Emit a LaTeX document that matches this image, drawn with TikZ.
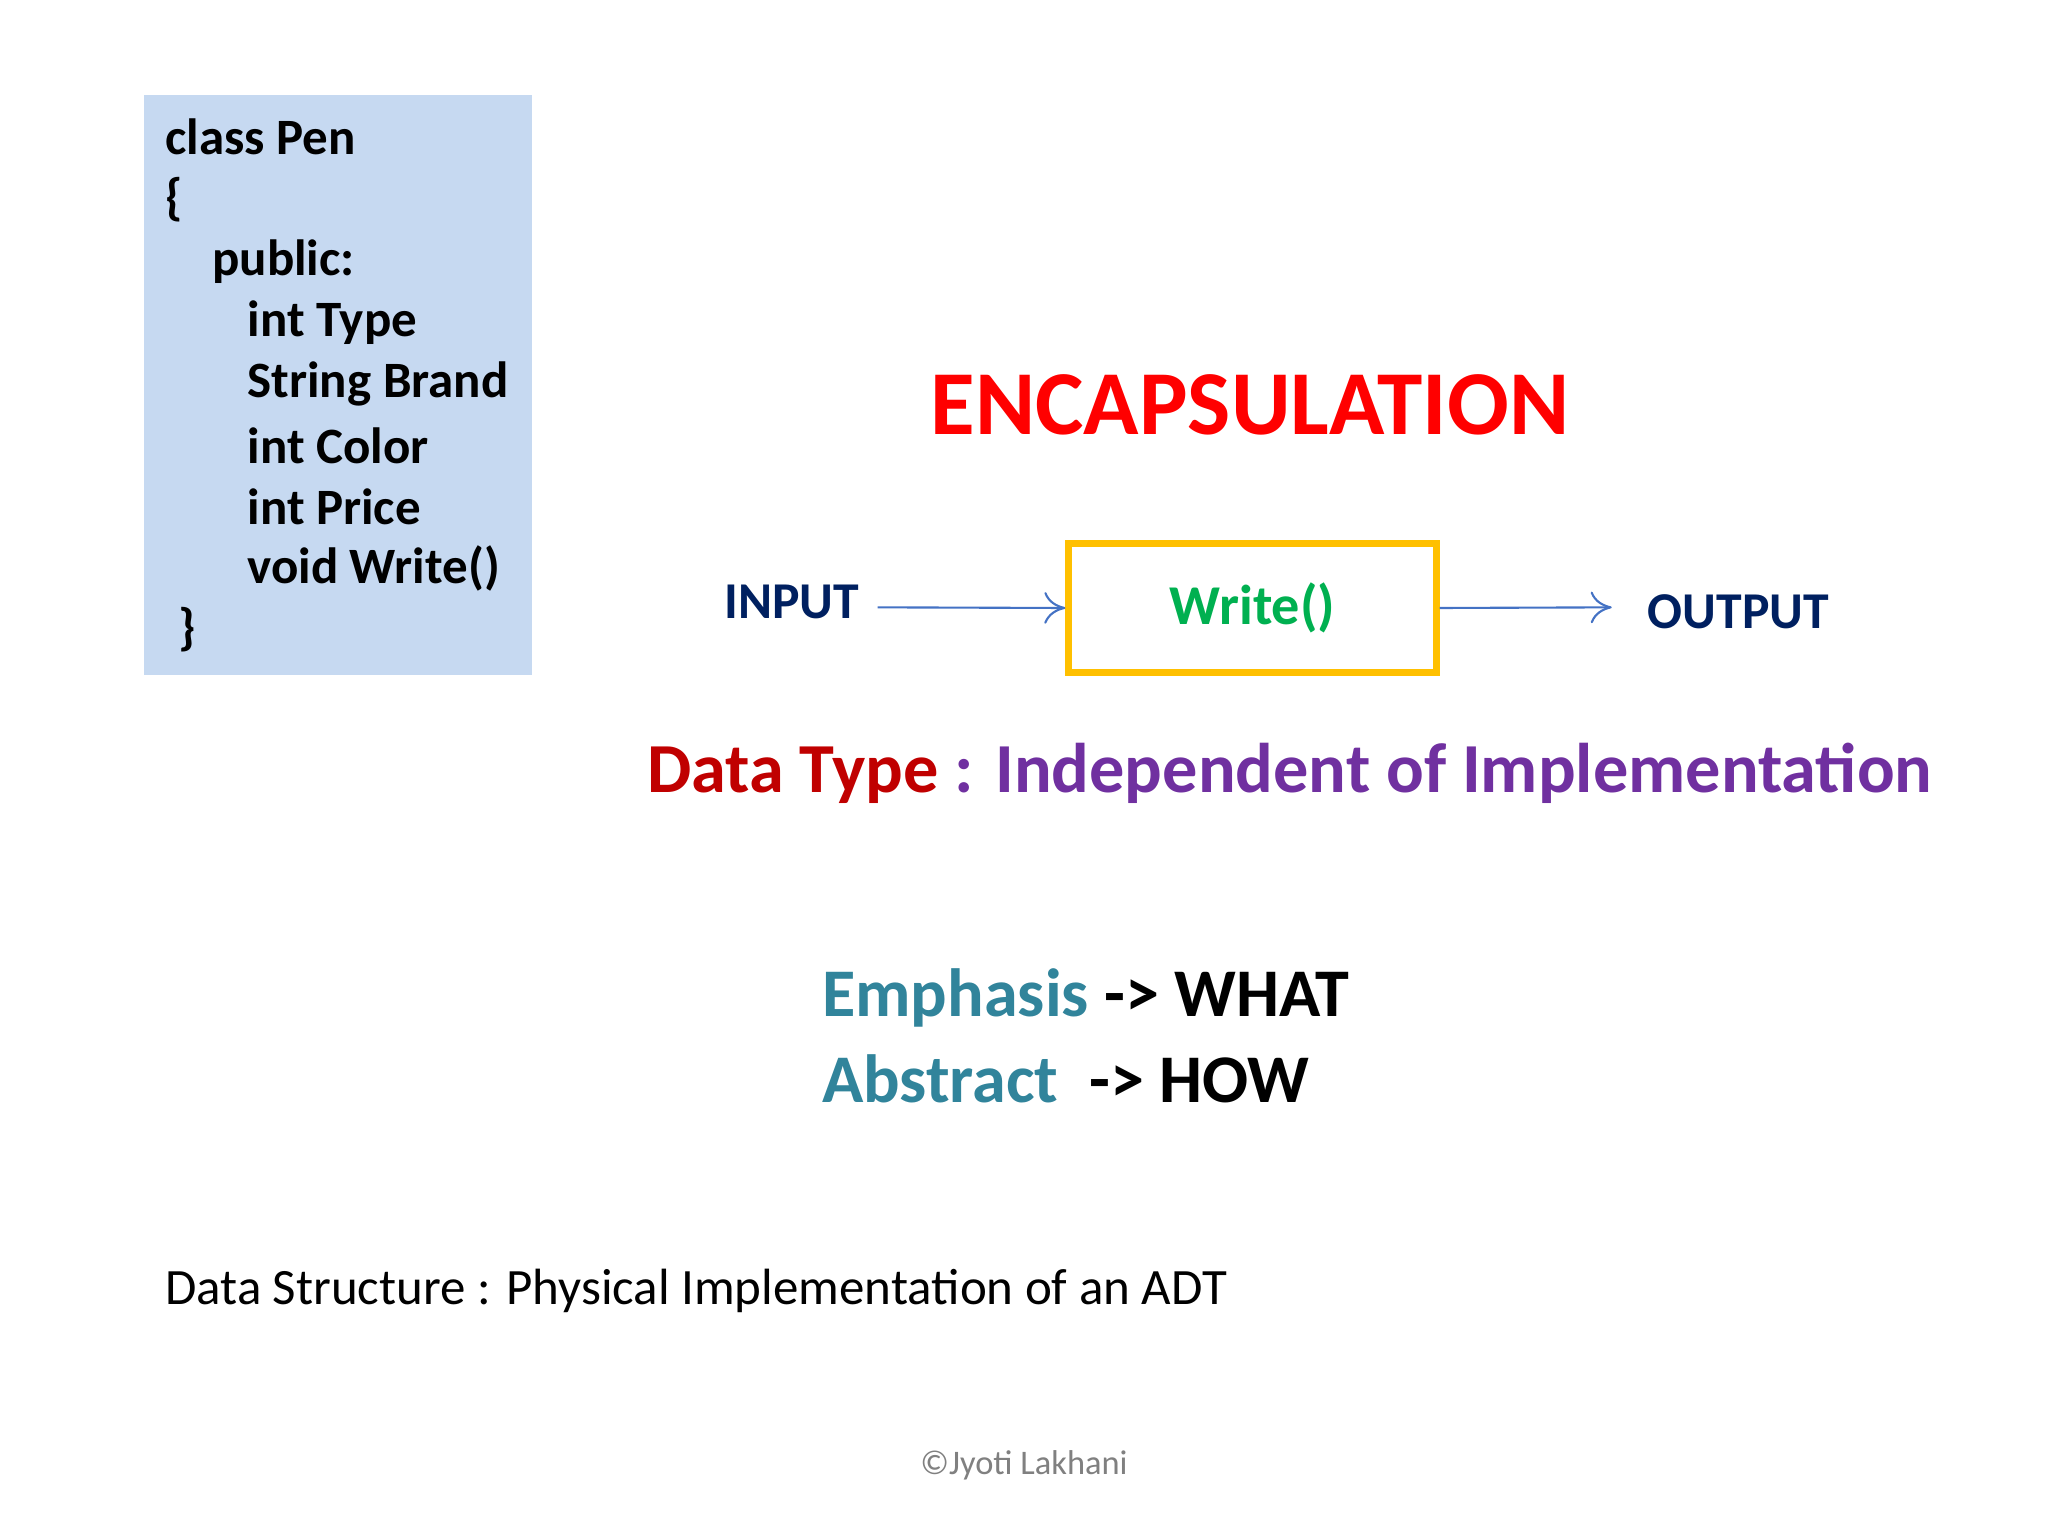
\documentclass[tikz,border=0pt]{standalone}
\usepackage{fontspec}
\setmainfont{Carlito}
\usetikzlibrary{arrows.meta}
\definecolor{codebg}{HTML}{C6D9F1}
\definecolor{ybox}{HTML}{FFC000}
\definecolor{wgreen}{HTML}{00B050}
\definecolor{dred}{HTML}{C00000}
\definecolor{purp}{HTML}{7030A0}
\definecolor{teal2}{HTML}{31849B}
\definecolor{navy}{HTML}{002060}
\definecolor{arr}{HTML}{4472C4}
\tikzset{
 code/.style={anchor=west,inner sep=0,font=\fontsize{14.5}{17}\selectfont\bfseries},
 lbl/.style={inner sep=0,font=\fontsize{14.7}{18}\selectfont\bfseries,text=navy},
 big/.style={anchor=west,inner sep=0,font=\fontsize{19.4}{23}\selectfont\bfseries},
 flow/.style={draw=arr,line width=0.6pt,-{To[length=6pt,width=9pt]}}
}
\begin{document}
\begin{tikzpicture}[x=0.013061cm,y=-0.013061cm]
\useasboundingbox (0,0) rectangle (1568,1176);
\fill[codebg] (110,73) rectangle (407,517);
\node[code] (c1) at (126,105) {class Pen};
\node[code] (c2) at (126,153) {\{};
\node[code] (c3) at (162,200) {public:};
\node[code] (c4) at (189,247) {int Type};
\node[code] (c5) at (189,294) {String Brand};
\node[code] (c6) at (189,341) {int Color};
\node[code] (c7) at (189,388) {int Price};
\node[code] (c8) at (189,435) {void Write()};
\node[code] (c9) at (136,482) {\}};
\node[inner sep=0,text=red,font=\fontsize{26}{30}\selectfont\bfseries] (enc) at (957,310) {ENCAPSULATION};
\node[draw=ybox,line width=1.8pt,minimum width=3.68cm,minimum height=1.29cm,inner sep=0,text=wgreen,font=\fontsize{16}{19}\selectfont\bfseries] (w) at (959,465.5) {Write()};
\node[lbl] (in) at (606,461) {INPUT};
\node[lbl] (out) at (1331,468) {OUTPUT};
\coordinate (a1) at (672,465); \coordinate (a2) at (1234,465);
\draw[flow] (a1) -- (w.west);
\draw[flow] (w.east) -- (a2);
\node[anchor=west,inner sep=0,font=\fontsize{20}{24}\selectfont\bfseries] (dt) at (495,592) {\textcolor{dred}{Data Type} \textcolor{purp}{: Independent of Implementation}};
\node[big] (em) at (629,764) {\textcolor{teal2}{Emphasis} -> WHAT};
\node[big] (ab) at (629,826) {\textcolor{teal2}{Abstract}\ \ -> HOW};
\node[anchor=west,inner sep=0,font=\fontsize{14.5}{17}\selectfont] (ds) at (126,988) {Data Structure : Physical Implementation of an ADT};
\node[inner sep=0,text=gray,font=\fontsize{9.8}{12}\selectfont] (cp) at (784,1122) {©Jyoti Lakhani};
\end{tikzpicture}
\end{document}
